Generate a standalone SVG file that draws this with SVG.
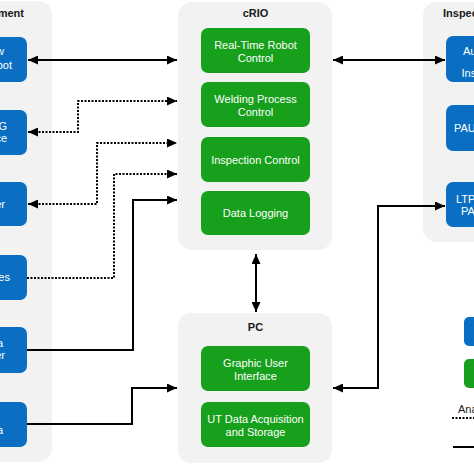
<svg xmlns="http://www.w3.org/2000/svg" width="474" height="474" viewBox="0 0 474 474">
<style>
.panel{fill:#f2f2f2}
.blue{fill:#0a6fc2}
.green{fill:#17a01b}
.t{font-family:"Liberation Sans",Arial,sans-serif;font-size:11px;fill:#ffffff}
.title{font-family:"Liberation Sans",Arial,sans-serif;font-size:11px;font-weight:bold;fill:#1a1a1a}
.lg{font-family:"Liberation Sans",Arial,sans-serif;font-size:11px;fill:#1a1a1a}
.solid{fill:none;stroke:#000;stroke-width:2}
.dot{fill:none;stroke:#000;stroke-width:2;stroke-dasharray:2 1.5}
</style>
<defs>
<marker id="ah" markerUnits="userSpaceOnUse" markerWidth="10" markerHeight="9" refX="10" refY="4.5" orient="auto-start-reverse">
<path d="M0,0 L10,4.5 L0,9 z" fill="#000"/>
</marker>
</defs>
<rect width="474" height="474" fill="#ffffff"/>

<g id="panel-welding">
<rect class="panel" x="-60" y="1" width="112" height="461" rx="14"/>
<text class="title" x="24" y="17" text-anchor="end">Welding Equipment</text>
</g>
<g id="panel-crio">
<rect class="panel" x="178" y="2" width="154" height="248" rx="14"/>
<text class="title" x="255.5" y="17" text-anchor="middle">cRIO</text>
</g>
<g id="panel-pc">
<rect class="panel" x="178" y="313" width="154" height="150" rx="14"/>
<text class="title" x="255.5" y="331" text-anchor="middle">PC</text>
</g>
<g id="panel-inspection">
<rect class="panel" x="423" y="2" width="112" height="240" rx="14"/>
<text class="title" x="443" y="17">Inspection Equipment</text>
</g>

<g id="w1">
<rect class="blue" x="-80" y="37" width="107" height="45" rx="7"/>
<text class="t" x="4" y="55" text-anchor="end">Elbow</text>
<text class="t" x="12" y="69" text-anchor="end">Robot</text>
</g>
<g id="w2">
<rect class="blue" x="-80" y="110" width="107" height="45" rx="7"/>
<text class="t" x="7" y="130" text-anchor="end">TIG</text>
<text class="t" x="7" y="142" text-anchor="end">Power Source</text>
</g>
<g id="w3">
<rect class="blue" x="-80" y="182" width="107" height="44" rx="7"/>
<text class="t" x="5" y="208" text-anchor="end">Wire Feeder</text>
</g>
<g id="w4">
<rect class="blue" x="-80" y="255" width="107" height="45" rx="7"/>
<text class="t" x="10" y="281" text-anchor="end">Thermocouples</text>
</g>
<g id="w5">
<rect class="blue" x="-80" y="327" width="107" height="46" rx="7"/>
<text class="t" x="3" y="347" text-anchor="end">Camera</text>
<text class="t" x="5" y="359" text-anchor="end">Laser Scanner</text>
</g>
<g id="w6">
<rect class="blue" x="-80" y="402" width="107" height="45" rx="7"/>
<text class="t" x="3" y="434" text-anchor="end">Camera</text>
</g>

<g id="c1">
<rect class="green" x="201" y="28" width="109" height="45" rx="7"/>
<text class="t" x="255.5" y="48.5" text-anchor="middle">Real-Time Robot</text>
<text class="t" x="255.5" y="61.5" text-anchor="middle">Control</text>
</g>
<g id="c2">
<rect class="green" x="201" y="82" width="109" height="45" rx="7"/>
<text class="t" x="255.5" y="102.5" text-anchor="middle">Welding Process</text>
<text class="t" x="255.5" y="115.5" text-anchor="middle">Control</text>
</g>
<g id="c3">
<rect class="green" x="201" y="137" width="109" height="45" rx="7"/>
<text class="t" x="255.5" y="163.5" text-anchor="middle">Inspection Control</text>
</g>
<g id="c4">
<rect class="green" x="201" y="191" width="109" height="44" rx="7"/>
<text class="t" x="255.5" y="217" text-anchor="middle">Data Logging</text>
</g>

<g id="p1">
<rect class="green" x="201" y="346" width="109" height="45" rx="7"/>
<text class="t" x="255.5" y="366.5" text-anchor="middle">Graphic User</text>
<text class="t" x="255.5" y="379.5" text-anchor="middle">Interface</text>
</g>
<g id="p2">
<rect class="green" x="201" y="402" width="109" height="45" rx="7"/>
<text class="t" x="255.5" y="422.5" text-anchor="middle">UT Data Acquisition</text>
<text class="t" x="255.5" y="435.5" text-anchor="middle">and Storage</text>
</g>

<g id="i1">
<rect class="blue" x="446" y="36" width="107" height="46" rx="7"/>
<text class="t" x="463" y="55">Automated</text>
<text class="t" x="461.5" y="77">Inspection</text>
</g>
<g id="i2">
<rect class="blue" x="446" y="105" width="107" height="46" rx="7"/>
<text class="t" x="454" y="132">PAUT Controller</text>
</g>
<g id="i3">
<rect class="blue" x="446" y="182" width="107" height="45" rx="7"/>
<text class="t" x="456" y="203">LTP</text>
<text class="t" x="461" y="215">PAUT</text>
</g>

<g id="legend">
<rect class="blue" x="464" y="317" width="30" height="29" rx="5"/>
<rect class="green" x="464" y="359" width="30" height="29" rx="5"/>
<text class="lg" x="458" y="413">Analogue</text>
<line class="dot" x1="452" y1="418" x2="480" y2="418"/>
<line class="solid" x1="453" y1="447" x2="480" y2="447"/>
</g>

<g id="connectors">
<path class="solid" d="M28,60 H177" marker-start="url(#ah)" marker-end="url(#ah)"/>
<path class="solid" d="M333,60 H445" marker-start="url(#ah)" marker-end="url(#ah)"/>
<path class="dot" d="M28,132 H78 V101 H177" marker-start="url(#ah)" marker-end="url(#ah)"/>
<path class="dot" d="M28,204 H97 V143 H177" marker-start="url(#ah)" marker-end="url(#ah)"/>
<path class="dot" d="M27,278 H114 V174 H177" marker-end="url(#ah)"/>
<path class="solid" d="M27,350 H133 V200 H177" marker-end="url(#ah)"/>
<path class="solid" d="M27,424 H132 V388 H177" marker-end="url(#ah)"/>
<path class="solid" d="M333,388 H378 V206 H445" marker-start="url(#ah)" marker-end="url(#ah)"/>
<path class="solid" d="M256,254 V312" marker-start="url(#ah)" marker-end="url(#ah)"/>
</g>
</svg>
